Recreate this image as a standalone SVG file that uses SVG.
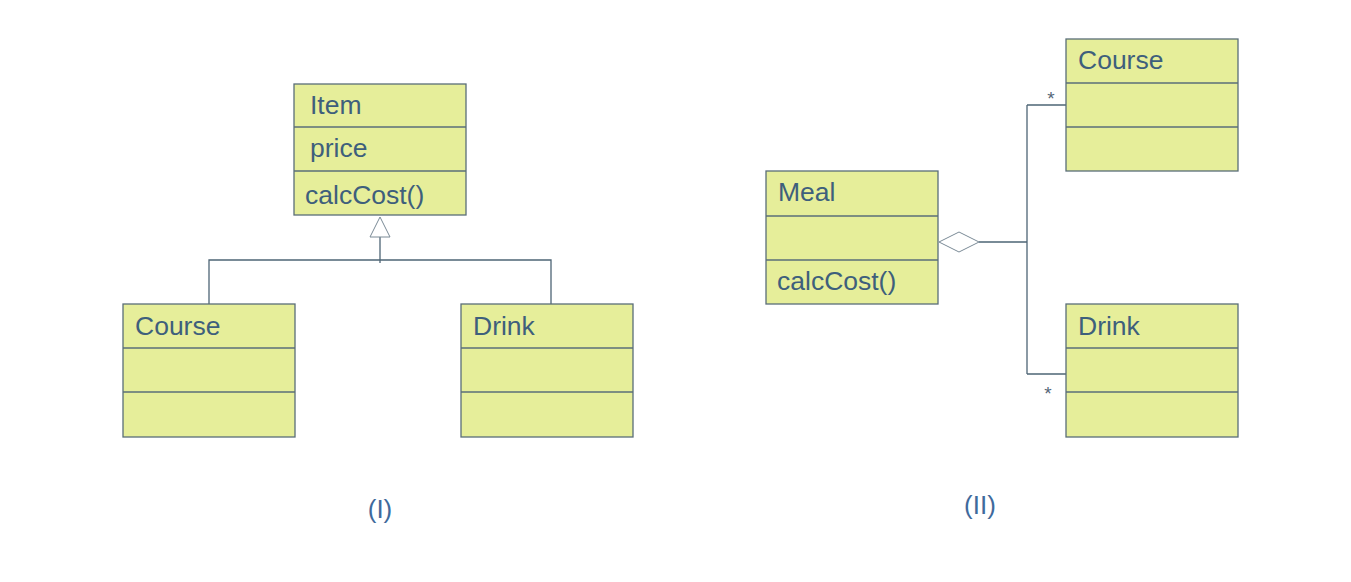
<svg xmlns="http://www.w3.org/2000/svg" width="1351" height="582" viewBox="0 0 1351 582">
<style>
.box{fill:#e6ee9a;stroke:#5a6e78;stroke-width:1.3}
.sep{stroke:#5a6e78;stroke-width:1.3}
.t{font-family:"Liberation Sans",Arial,sans-serif;font-size:26.5px;fill:#3e5f7c}
.c{fill:none;stroke:#4e6576;stroke-width:1.3}
.m{font-family:"Liberation Sans",Arial,sans-serif;font-size:19px;fill:#556677}
.lbl{font-family:"Liberation Sans",Arial,sans-serif;font-size:26px;fill:#3f6a9c;text-anchor:middle}
</style>
<rect width="1351" height="582" fill="#ffffff"/>
<g id="connectors">
<path class="c" d="M380 237 V263 M209 304 V260 H551 V304"/>
<polygon points="380,217 370,237 390,237" fill="#ffffff" stroke="#7a8a96" stroke-width="1"/>
<path class="c" d="M979 242 H1027 M1027 105 V374 M1027 105 H1066 M1027 374 H1066"/>
<polygon points="939,242 959,232 979,242 959,252" fill="#ffffff" stroke="#7a8a96" stroke-width="1"/>
<text class="m" x="1051" y="105" text-anchor="middle">*</text>
<text class="m" x="1048" y="400" text-anchor="middle">*</text>
</g>
<g id="item">
<rect class="box" x="294" y="84" width="172" height="131"/>
<line class="sep" x1="294" y1="127" x2="466" y2="127"/>
<line class="sep" x1="294" y1="171" x2="466" y2="171"/>
<text class="t" x="310" y="114">Item</text>
<text class="t" x="310" y="157">price</text>
<text class="t" x="305" y="204">calcCost()</text>
</g>
<g id="course1">
<rect class="box" x="123" y="304" width="172" height="133"/>
<line class="sep" x1="123" y1="348" x2="295" y2="348"/>
<line class="sep" x1="123" y1="392" x2="295" y2="392"/>
<text class="t" x="135" y="335">Course</text>
</g>
<g id="drink1">
<rect class="box" x="461" y="304" width="172" height="133"/>
<line class="sep" x1="461" y1="348" x2="633" y2="348"/>
<line class="sep" x1="461" y1="392" x2="633" y2="392"/>
<text class="t" x="473" y="335">Drink</text>
</g>
<g id="meal">
<rect class="box" x="766" y="171" width="172" height="133"/>
<line class="sep" x1="766" y1="216" x2="938" y2="216"/>
<line class="sep" x1="766" y1="260" x2="938" y2="260"/>
<text class="t" x="778" y="201">Meal</text>
<text class="t" x="777" y="290">calcCost()</text>
</g>
<g id="course2">
<rect class="box" x="1066" y="39" width="172" height="132"/>
<line class="sep" x1="1066" y1="83" x2="1238" y2="83"/>
<line class="sep" x1="1066" y1="127" x2="1238" y2="127"/>
<text class="t" x="1078" y="69">Course</text>
</g>
<g id="drink2">
<rect class="box" x="1066" y="304" width="172" height="133"/>
<line class="sep" x1="1066" y1="348" x2="1238" y2="348"/>
<line class="sep" x1="1066" y1="392" x2="1238" y2="392"/>
<text class="t" x="1078" y="335">Drink</text>
</g>
<g id="labels">
<text class="lbl" x="380" y="518">(I)</text>
<text class="lbl" x="980" y="514">(II)</text>
</g>
</svg>
